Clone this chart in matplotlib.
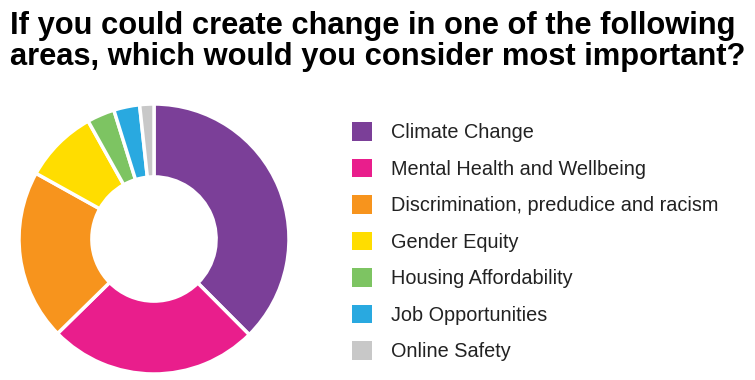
import matplotlib
matplotlib.use("Agg")
import matplotlib.pyplot as plt
from matplotlib.patches import Patch

categories = ["Climate Change", "Mental Health and Wellbeing",
              "Discrimination, predudice and racism", "Gender Equity",
              "Housing Affordability", "Job Opportunities", "Online Safety"]
values = [37.5, 25.1, 20.4, 8.8, 3.3, 3.1, 1.7]
colors = ["#7B3F98", "#E91E8C", "#F7941D", "#FFDD00", "#7DC462", "#29A9E0", "#C8C8C8"]
title_lines = ["If you could create change in one of the following",
               "areas, which would you consider most important?"]

W, H = 755, 380
fig = plt.figure(figsize=(W / 100, H / 100), dpi=100)
fig.patch.set_facecolor("white")

cx, cy, R = 154, 239, 135
ax = fig.add_axes([(cx - R) / W, (H - cy - R) / H, 2 * R / W, 2 * R / H])
wedges, _ = ax.pie(values, colors=colors, startangle=90, counterclock=False,
                   radius=1.0,
                   wedgeprops=dict(width=0.54, edgecolor="white", linewidth=2.5))
ax.set_xlim(-1, 1)
ax.set_ylim(-1, 1)
ax.set_aspect("equal")
ax.axis("off")

for i, line in enumerate(title_lines):
    fig.text(10 / W, 1 - (34 + 31 * i) / H, line, ha="left", va="baseline",
             fontsize=22.2, fontweight="bold", family="Liberation Sans",
             color="#000000")

fs = 14.3
handles = [Patch(facecolor=c, edgecolor="none") for c in colors]
fig.legend(handles, categories, loc="upper left",
           bbox_to_anchor=(352 / W, 1 - 122 / H), frameon=False,
           prop=dict(family="Liberation Sans", size=fs),
           handlelength=1.0, handleheight=1.06, handletextpad=0.98,
           labelspacing=0.83, borderpad=0, borderaxespad=0,
           labelcolor="#222222")

fig.savefig("out.png", dpi=100, facecolor="white")
